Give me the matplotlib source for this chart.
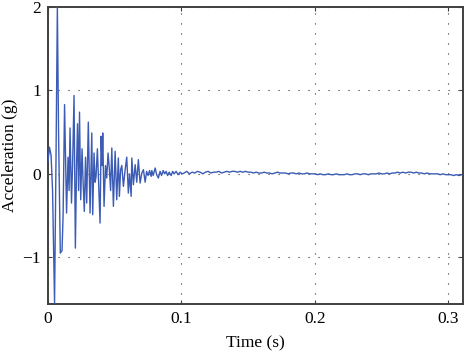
import matplotlib
matplotlib.use("Agg")
import matplotlib.pyplot as plt
import numpy as np

# ── data ──────────────────────────────────────────────────────────────────────
# impact burst, 0 - 0.1 s
burst_t = [0.0, 0.0011, 0.0023, 0.0034, 0.0049, 0.0060, 0.0070, 0.0079, 0.0092,
           0.0105, 0.0113, 0.0124, 0.0139, 0.0150, 0.0158, 0.0165, 0.0176, 0.0184,
           0.0195, 0.0205, 0.0214, 0.0221, 0.0229, 0.0236, 0.0245, 0.0255, 0.0263,
           0.0272, 0.0281, 0.0290, 0.0302, 0.0315, 0.0328, 0.0335, 0.0345, 0.0353,
           0.0360, 0.0370, 0.0377, 0.0390, 0.0398, 0.0405, 0.0410, 0.0420, 0.0431,
           0.0440, 0.0450, 0.0460, 0.0469, 0.0478, 0.0490, 0.0503, 0.0515, 0.0527,
           0.0535, 0.0544, 0.0553, 0.0565, 0.0578, 0.0590, 0.0602, 0.0611, 0.0623,
           0.0628, 0.0640, 0.0653, 0.0665, 0.0677, 0.0690, 0.0703, 0.0715, 0.0728,
           0.0739, 0.0750, 0.0761, 0.0773, 0.0778, 0.0788, 0.0803, 0.0814, 0.0827,
           0.0840, 0.0851, 0.0863, 0.0874, 0.0885, 0.0896, 0.0908, 0.0923, 0.0934,
           0.0945, 0.0960, 0.0975, 0.0990, 0.1005]
burst_a = [0.15, 0.32, 0.22, -0.20, -1.55, 0.20, 2.00, 0.50, -0.95,
           -0.92, -0.50, 0.83, -0.47, 0.20, -0.20, 0.55, -0.35, 0.10,
           0.94, -0.89, 0.10, 0.60, -0.20, 0.74, -0.31, 0.30, -0.10,
           -0.45, 0.20, -0.35, 0.62, -0.47, 0.49, -0.49, 0.25, -0.10,
           -0.03, 0.30, 0.00, -0.59, 0.45, 0.10, 0.49, -0.39, 0.10,
           -0.05, 0.25, 0.05, -0.20, 0.31, -0.39, 0.27, -0.31, 0.19,
           -0.27, 0.05, 0.10, -0.15, 0.05, 0.20, -0.23, 0.00, -0.27,
           0.19, -0.13, 0.11, -0.10, 0.17, -0.11, 0.01, 0.05, -0.10,
           0.03, -0.02, 0.04, -0.03, 0.04, -0.02, 0.07, -0.01, -0.05,
           0.03, -0.02, 0.04, 0.00, 0.03, -0.02, 0.02, -0.02, 0.03,
           0.00, 0.03, -0.01, 0.02, 0.00]

# residual response, sampled every 2 ms from 0.102 s
tail_a = [0.01, 0.03, 0.00, 0.02, 0.01, 0.03, 0.02, 0.00, 0.02, 0.03, 0.01, 0.02, 0.02,
          0.03, 0.01, 0.02, 0.03, 0.02, 0.03, 0.03, 0.02, 0.03, 0.02, 0.03, 0.02,
          0.02, 0.01, 0.02, 0.01, 0.01, 0.02, 0.01, 0.01, 0.00, 0.01, 0.02, 0.01, 0.01,
          0.01, 0.00, 0.01, 0.01, 0.00, 0.01, 0.00, 0.00, 0.01, 0.00, 0.00, 0.00,
          -0.01, 0.00, -0.01, -0.01, 0.00, -0.01, -0.01, 0.00, -0.01, -0.01, -0.01, 0.00,
          -0.01, -0.01, 0.00, 0.00, -0.01, 0.00, 0.00, -0.01, 0.00, 0.00, 0.00, 0.01, 0.00,
          0.00, 0.01, 0.00, 0.01, 0.01, 0.02, 0.01, 0.02, 0.01, 0.02, 0.02, 0.01, 0.02,
          0.01, 0.01, 0.00, 0.01, 0.00, 0.00, 0.00, 0.00, -0.01, 0.00, -0.01, -0.01,
          -0.01, -0.02, -0.01, -0.02, -0.01]
tail_t0, tail_dt = 0.102, 0.002

xticks = [0, 0.1, 0.2, 0.3]
xticklabels = ["0", "0.1", "0.2", "0.3"]
yticks = [-1, 0, 1, 2]
yticklabels = ["\u22121", "0", "1", "2"]

t = np.concatenate([burst_t, tail_t0 + tail_dt * np.arange(len(tail_a))])
a = np.concatenate([burst_a, tail_a])

# ── figure ─────────────────────────────────────────────────────────────────────
plt.rcParams["font.family"] = ["Liberation Serif", "DejaVu Serif"]
FS = 12.5
fig = plt.figure(figsize=(4.74, 3.56), dpi=100)
ax = fig.add_axes([0.1013, 0.1461, 0.8755, 0.8342])

ax.plot(t, a, color="#3b5bb5", linewidth=1.0, zorder=3)

ax.set_xlim(0, 0.311)
ax.set_ylim(-1.56, 2.0)
ax.set_xticks(xticks)
ax.set_xticklabels(xticklabels)
ax.set_yticks(yticks)
ax.set_yticklabels(yticklabels)

ax.grid(True, linestyle=(0, (1, 8)), color="#333333", linewidth=0.8)
ax.tick_params(direction="in", length=3, labelsize=FS, color="#404040",
               top=True, right=True, pad=5)
for s in ax.spines.values():
    s.set_color("#404040")
    s.set_linewidth(1.4)

ax.set_xlabel("Time (s)", fontsize=FS, labelpad=6)
ax.set_ylabel("Acceleration (g)", fontsize=FS, labelpad=3)

fig.savefig("out.png", dpi=100)
